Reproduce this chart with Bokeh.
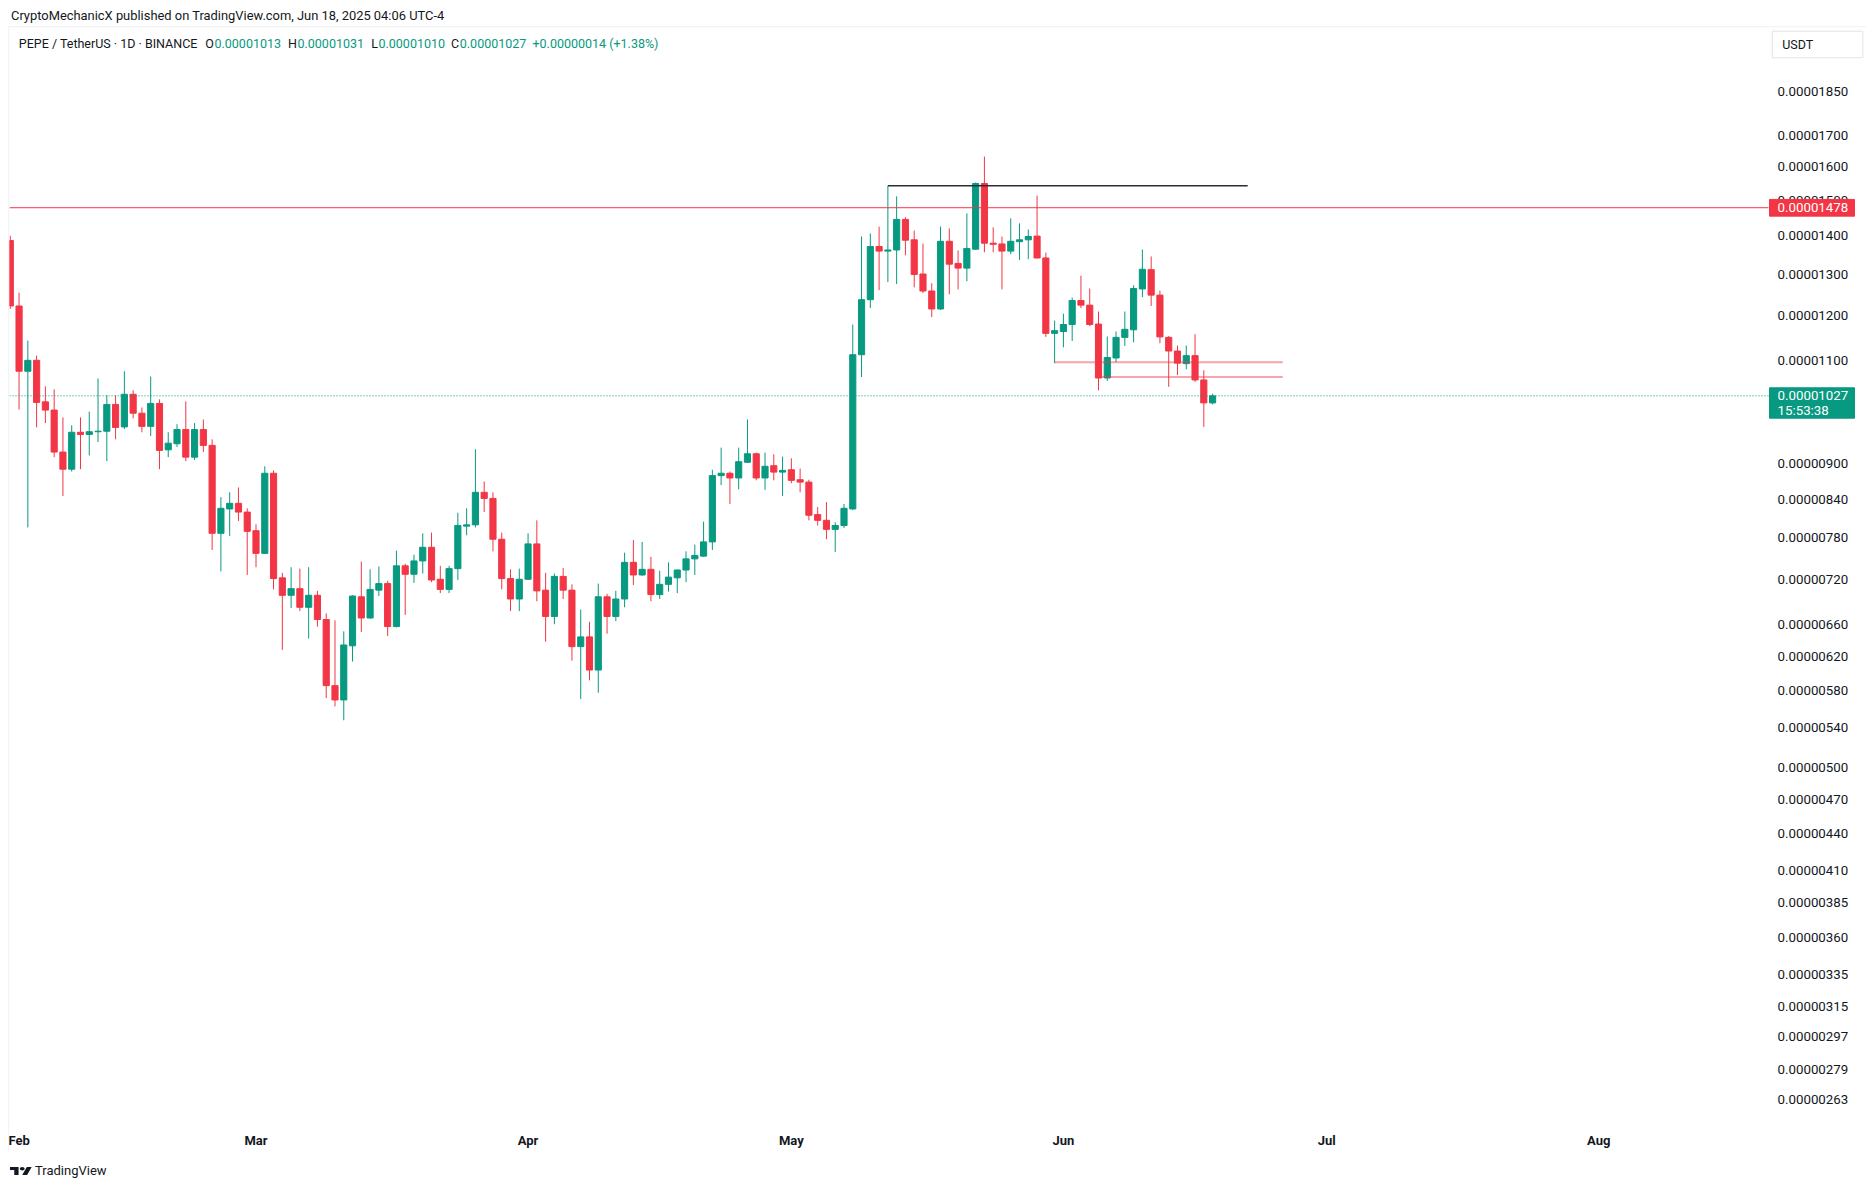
import math
import pandas as pd
from bokeh.plotting import figure
from bokeh.models import (ColumnDataSource, Range1d, FixedTicker, Label, Div, Column)
from bokeh.core.properties import value
from bokeh.embed import file_html
from bokeh.resources import INLINE

# ---------------- data (prices in units of 0.00000001 USDT) ----------------
UNIT = 1e-8
START = "2025-02-01"

opens = [
    # Feb
    1387, 1222, 1077, 1100, 1015, 999, 921, 891, 957, 953, 958, 959, 1010, 967, 1030, 993, 968, 1012, 925, 936,
    962, 912, 962, 933, 787, 825, 834, 820,
    # Mar
    791, 757, 884, 722, 698, 707, 682, 698, 666, 586, 570, 633, 696, 668, 705, 714, 657, 739, 727, 746,
    766, 720, 706, 735, 798, 800, 852, 842, 778, 721, 693,
    # Apr
    720, 771, 705, 670, 724, 705, 632, 644, 604, 696, 670, 693, 744, 726, 734, 699, 713, 722, 733, 749,
    753, 774, 880, 884, 876, 903, 918, 876, 897, 886,
    # May
    890, 873, 869, 816, 807, 793, 799, 825, 1112, 1237, 1371, 1359, 1362, 1445, 1389, 1300, 1258, 1215, 1385, 1327,
    1315, 1364, 1549, 1380, 1378, 1359, 1384, 1389, 1399, 1341, 1159,
    # Jun
    1163, 1179, 1235, 1224, 1180, 1063, 1105, 1150, 1167, 1263, 1311, 1248, 1150, 1120, 1093, 1110, 1059, 1013,
]
highs = [
    1400, 1254, 1143, 1110, 1046, 1040, 985, 970, 985, 996, 1062, 1028, 1028, 1077, 1038, 1004, 1066, 1020, 957, 972,
    1016, 974, 981, 944, 844, 852, 860, 826,
    801, 896, 889, 729, 737, 735, 737, 704, 674, 665, 651, 698, 745, 734, 738, 718, 761, 742, 755, 787,
    788, 739, 739, 819, 826, 926, 870, 852, 788, 734, 735,
    787, 807, 729, 728, 736, 713, 679, 663, 714, 700, 704, 758, 777, 774, 752, 732, 744, 734, 760, 770,
    805, 890, 929, 887, 929, 981, 920, 920, 917, 913,
    910, 892, 873, 828, 836, 804, 833, 1179, 1398, 1406, 1425, 1542, 1511, 1451, 1414, 1379, 1277, 1425, 1420, 1361,
    1462, 1552, 1632, 1423, 1398, 1448, 1434, 1417, 1513, 1355, 1188,
    1204, 1242, 1296, 1264, 1209, 1152, 1163, 1209, 1272, 1363, 1345, 1259, 1153, 1132, 1132, 1157, 1079, 1031,
]
lows = [
    1215, 1000, 796, 966, 974, 912, 846, 887, 891, 915, 939, 905, 944, 963, 983, 957, 950, 891, 912, 930,
    905, 907, 921, 762, 731, 783, 806, 726,
    737, 756, 706, 628, 681, 677, 642, 657, 572, 563, 548, 614, 650, 667, 697, 645, 656, 672, 715, 728,
    716, 701, 701, 719, 784, 796, 820, 760, 706, 677, 677,
    719, 690, 638, 660, 693, 615, 571, 592, 578, 648, 664, 682, 712, 725, 690, 693, 703, 701, 716, 726,
    752, 762, 864, 833, 857, 902, 872, 856, 872, 846,
    867, 852, 807, 799, 778, 759, 795, 823, 1065, 1217, 1260, 1280, 1275, 1348, 1267, 1253, 1196, 1213, 1250, 1262,
    1282, 1362, 1356, 1356, 1262, 1351, 1336, 1338, 1340, 1151, 1094,
    1128, 1142, 1217, 1175, 1038, 1057, 1096, 1131, 1139, 1243, 1222, 1137, 1045, 1069, 1081, 1055, 967, 1010,
]
closes = [
    1222, 1077, 1100, 1014, 999, 921, 891, 957, 953, 958, 959, 1010, 966, 1030, 993, 968, 1012, 924, 937, 962,
    912, 962, 933, 787, 826, 834, 820, 790,
    757, 884, 721, 698, 707, 682, 698, 666, 586, 570, 634, 697, 668, 706, 714, 657, 739, 727, 746, 766,
    719, 706, 735, 799, 800, 852, 842, 778, 721, 693, 720,
    771, 704, 670, 724, 705, 632, 644, 604, 696, 670, 693, 744, 726, 734, 699, 713, 723, 733, 749, 754,
    774, 880, 884, 876, 904, 918, 876, 896, 886, 889,
    872, 869, 815, 807, 793, 799, 826, 1112, 1237, 1371, 1359, 1362, 1445, 1388, 1299, 1258, 1215, 1385, 1325, 1315,
    1366, 1549, 1380, 1377, 1359, 1385, 1389, 1398, 1341, 1159, 1165,
    1179, 1235, 1224, 1179, 1063, 1106, 1150, 1168, 1264, 1312, 1248, 1151, 1120, 1094, 1110, 1059, 1013, 1027,
]

month_ticks = ["2025-02-01", "2025-03-01", "2025-04-01", "2025-05-01", "2025-06-01", "2025-07-01", "2025-08-01"]
month_labels = ["Feb", "Mar", "Apr", "May", "Jun", "Jul", "Aug"]
price_ticks = [1850, 1700, 1600, 1500, 1400, 1300, 1200, 1100, 1000, 900, 840, 780, 720, 660, 620, 580, 540,
               500, 470, 440, 410, 385, 360, 335, 315, 297, 279, 263]
quote_currency = "USDT"

resistance_price = 1478
countdown = "15:53:38"
ray_price, ray_start, ray_end = 1542, "2025-05-12", "2025-06-22"
support_prices = [1096, 1065]
support_starts = ["2025-05-31", "2025-06-05"]
support_end = "2025-06-26"

GREEN, RED, DARK = "#089981", "#f23645", "#131722"
FONT = "Roboto"

# ---------------- layout helpers (page pixels -> data) ----------------
PX_DAY0, PX_PER_DAY = 9.78, 8.776
PY_REF, PRICE_REF, PX_PER_LN = 395.3, 1027, 516.6


def day_at(px):
    return (px - PX_DAY0) / PX_PER_DAY


def price_at(py):
    return PRICE_REF * UNIT * math.exp((PY_REF - py) / PX_PER_LN)


def py_of(price_units):
    return PY_REF - PX_PER_LN * math.log(price_units / PRICE_REF)


def fmt(v):
    return f"{v * UNIT:.8f}"


t0 = pd.Timestamp(START)


def day_of(s):
    return (pd.Timestamp(s) - t0).days


dates = pd.date_range(START, periods=len(opens), freq="D")
days = [(d - t0).days for d in dates]

src = ColumnDataSource(dict(
    day=days,
    high=[v * UNIT for v in highs],
    low=[v * UNIT for v in lows],
    top=[max(o, c) * UNIT for o, c in zip(opens, closes)],
    bottom=[min(o, c) * UNIT for o, c in zip(opens, closes)],
    color=[GREEN if c >= o else RED for o, c in zip(opens, closes)],
))

# ---------------- figure ----------------
FIG_X, FIG_Y, W, H = 8, 26, 1858, 1126
FRAME_L, FRAME_R, FRAME_T, FRAME_B = 9, 1866, 27, 1124
PANE_R = 1768          # right edge of the candle pane (price scale starts here)

p = figure(width=W, height=H, output_backend="svg", toolbar_location=None, tools="",
           y_axis_type="log", y_axis_location=None,
           x_range=Range1d(day_at(FRAME_L), day_at(FRAME_R)),
           y_range=Range1d(price_at(FRAME_B), price_at(FRAME_T)),
           min_border_left=FRAME_L - FIG_X, min_border_right=FIG_X + W - FRAME_R,
           min_border_top=FRAME_T - FIG_Y, min_border_bottom=FIG_Y + H - FRAME_B,
           margin=0,
           styles={"outline": "2px solid #eef0f4", "outline-offset": "-2px"})
p.outline_line_color = None
p.background_fill_color = "white"
p.border_fill_color = "white"
p.xgrid.visible = False
p.ygrid.visible = False

month_days = [day_of(m) for m in month_ticks]
xa = p.xaxis[0]
xa.ticker = FixedTicker(ticks=month_days)
xa.major_label_overrides = {d: lab for d, lab in zip(month_days, month_labels)}
xa.major_label_text_font_style = "bold"
xa.major_label_text_font_size = "13px"
xa.major_label_standoff = 8
xa.axis_line_color = None
xa.major_tick_line_color = None
xa.minor_tick_line_color = None
xa.major_tick_out = 0
xa.major_tick_in = 0
xa.major_label_text_font = FONT
xa.major_label_text_color = DARK

x_pane_end = day_at(PANE_R)

# candles
p.segment(x0="day", y0="low", x1="day", y1="high", line_color="color", line_width=1, source=src)
p.vbar(x="day", width=0.7, top="top", bottom="bottom", fill_color="color", line_color="color",
       line_width=1, source=src)

# horizontal levels (stop at the price scale)
x_left = day_at(FRAME_L)
p.segment(x0=[x_left], x1=[x_pane_end], y0=[resistance_price * UNIT], y1=[resistance_price * UNIT],
          line_color=RED, line_width=1)
p.segment(x0=[x_left], x1=[x_pane_end], y0=[closes[-1] * UNIT], y1=[closes[-1] * UNIT],
          line_color=GREEN, line_width=1, line_dash="1 2")
p.segment(x0=[day_of(ray_start)], x1=[day_of(ray_end)], y0=[ray_price * UNIT], y1=[ray_price * UNIT],
          line_color="#2a2e39", line_width=1.5)
p.segment(x0=[day_of(s) for s in support_starts], x1=[day_of(support_end)] * len(support_prices),
          y0=[v * UNIT for v in support_prices], y1=[v * UNIT for v in support_prices],
          line_color=RED, line_alpha=0.45, line_width=2)

# ---------------- price scale (log) ----------------
LBL_X = day_at(1777)
p.text(x=[LBL_X] * len(price_ticks), y=[t * UNIT for t in price_ticks], text=[fmt(t) for t in price_ticks],
       text_font=value(FONT), text_font_size="13.3px", text_color=DARK,
       text_baseline="middle", text_align="left")

# price boxes on the scale
box_l, box_r = day_at(1769), day_at(1854)
p.quad(left=[box_l], right=[box_r],
       top=[price_at(py_of(resistance_price) - 8.3)], bottom=[price_at(py_of(resistance_price) + 8.4)],
       fill_color=RED, line_color=RED)
p.text(x=[LBL_X], y=[resistance_price * UNIT], text=[fmt(resistance_price)],
       text_font=value(FONT), text_font_size="13.3px", text_color="white",
       text_baseline="middle", text_align="left")

p.quad(left=[box_l], right=[box_r],
       top=[price_at(py_of(closes[-1]) - 8)], bottom=[price_at(py_of(closes[-1]) + 22.4)],
       fill_color=GREEN, line_color=GREEN)
p.text(x=[LBL_X, LBL_X], y=[closes[-1] * UNIT, price_at(py_of(closes[-1]) + 14.5)],
       text=[fmt(closes[-1]), countdown],
       text_font=value(FONT), text_font_size="13.3px", text_color="white",
       text_baseline="middle", text_align="left")

# currency selector box
p.quad(left=[day_at(1771.7)], right=[day_at(1862.3)], top=[price_at(30.7)], bottom=[price_at(57.3)],
       fill_color="white", line_color="#e0e3eb", line_width=1)
p.text(x=[day_at(1781.7)], y=[price_at(43.6)], text=[quote_currency],
       text_font=value(FONT), text_font_size="12.5px", text_color=DARK,
       text_baseline="middle", text_align="left")

# ---------------- legend line inside the pane ----------------
chg = closes[-1] - closes[-2]
pct = chg / closes[-2] * 100
sign = "+" if chg >= 0 else "-"
hdr_y = price_at(42.7)
p.add_layout(Label(x=day_at(18.3), y=hdr_y, text="PEPE / TetherUS \u00b7 1D \u00b7 BINANCE", text_font=FONT,
                   text_font_size="12.5px", text_color=DARK, text_baseline="middle", text_align="left"))
ohlc = [("O", 214, opens[-1]), ("H", 297, highs[-1]), ("L", 378, lows[-1]), ("C", 459.3, closes[-1])]
for letter, px, v in ohlc:
    p.add_layout(Label(x=day_at(px - 0.6), y=hdr_y, text=letter, text_font=FONT, text_font_size="12.5px",
                       text_color=DARK, text_baseline="middle", text_align="right"))
    p.add_layout(Label(x=day_at(px), y=hdr_y, text=fmt(v), text_font=FONT, text_font_size="12.5px",
                       text_color=GREEN, text_baseline="middle", text_align="left"))
p.add_layout(Label(x=day_at(532), y=hdr_y, text=f"{sign}{fmt(abs(chg))} ({sign}{abs(pct):.2f}%)",
                   text_font=FONT, text_font_size="12.5px", text_color=GREEN,
                   text_baseline="middle", text_align="left"))

header = Div(text='<div style="font-family:Roboto;font-size:12.9px;line-height:15px;color:#131722;'
                  'padding:0 0 0 3px;margin:0;white-space:nowrap;">'
                  'CryptoMechanicX published on TradingView.com, Jun 18, 2025 04:06 UTC-4</div>',
             width=W, height=FIG_Y - 8, margin=0)
footer = Div(text='<div style="display:flex;align-items:center;gap:3px;margin-top:12px;padding-left:2px;'
                  'font-family:Roboto;font-size:13px;line-height:14px;color:#131722;white-space:nowrap;">'
                  '<svg width="22" height="8" viewBox="0 4 36 18" preserveAspectRatio="none">'
                  '<path d="M14 22H7V11H0V4h14v18zM28 22h-8l7.5-18h8L28 22z" fill="#131722"/>'
                  '<circle cx="20" cy="8" r="4" fill="#131722"/></svg>'
                  '<span>TradingView</span></div>',
             width=W, height=27, margin=0)

layout = Column(children=[header, p, footer], spacing=0, margin=(8, 0, 0, 8))
open("out.html", "w").write(file_html(layout, INLINE))
